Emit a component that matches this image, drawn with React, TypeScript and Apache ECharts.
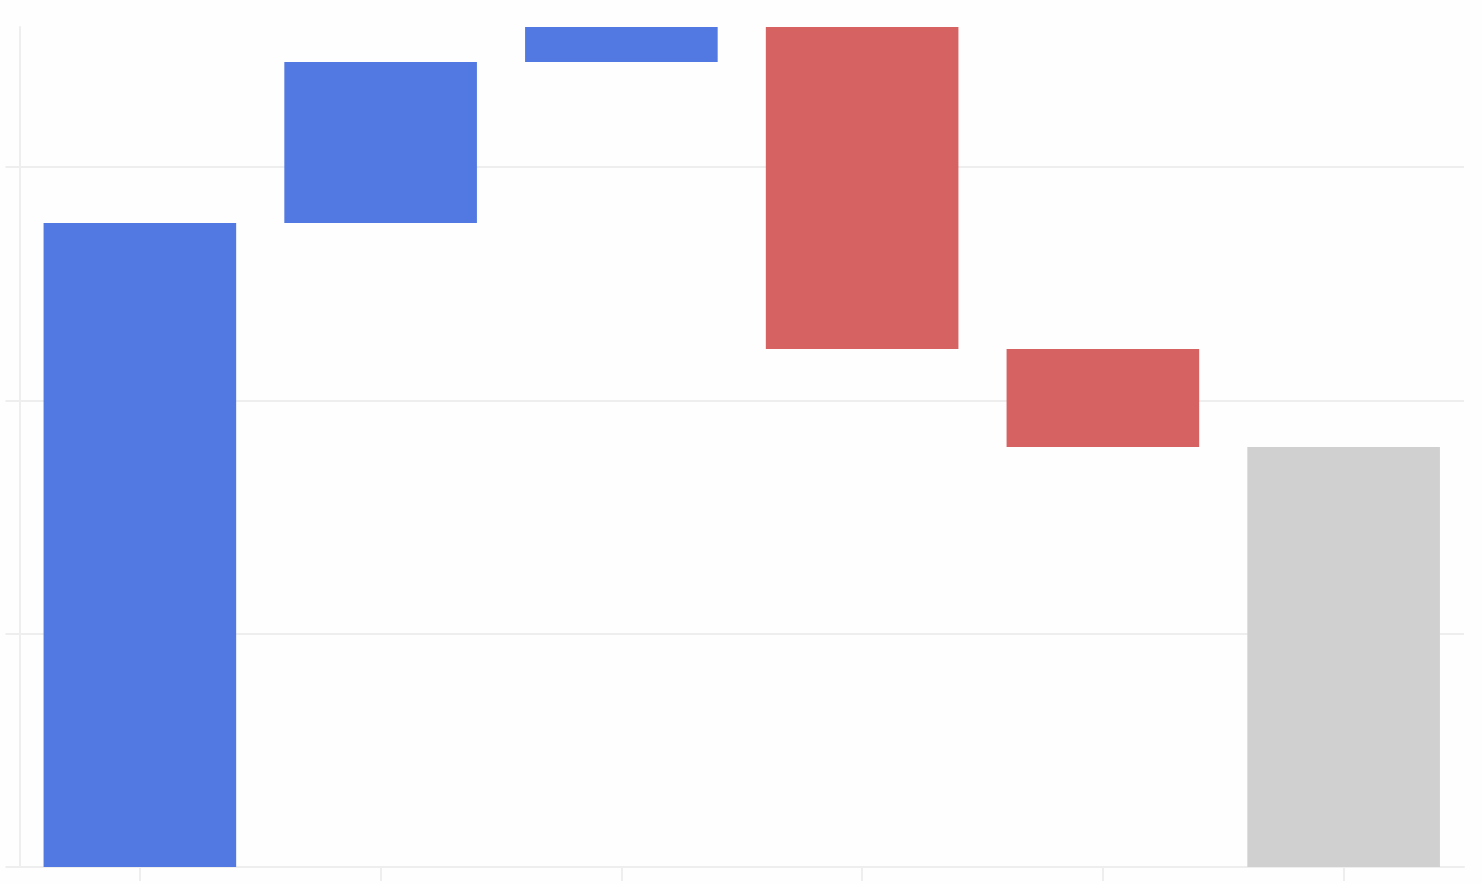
import React, { useEffect, useRef } from "react";
import * as echarts from "echarts";

// waterfall steps: first is the opening value, last is the closing total
const categories = ["Start", "Step 1", "Step 2", "Step 3", "Step 4", "Total"];
const changes = [138, 34.5, 7.5, -69, -21];
const yTicks = [0, 50, 100, 150];
const yMax = 180;

const BLUE = "#5279E1";
const RED = "#D76262";
const GRAY = "#D0D0D0";
const LINE = "#EEEEEE";

const App: React.FC = () => {
  const chartRef = useRef<HTMLDivElement>(null);

  useEffect(() => {
    if (!chartRef.current) return;
    const myChart = echarts.init(chartRef.current, null, { renderer: "svg" });

    // running total -> invisible base + visible bar height
    const base: number[] = [];
    const height: any[] = [];
    let total = 0;
    changes.forEach((c, i) => {
      const start = total;
      total += c;
      if (i === 0) {
        base.push(0);
        height.push({ value: c, itemStyle: { color: BLUE } });
      } else {
        base.push(Math.min(start, total));
        height.push({ value: Math.abs(c), itemStyle: { color: c >= 0 ? BLUE : RED } });
      }
    });
    base.push(0);
    height.push({ value: total, itemStyle: { color: GRAY } });

    const option: echarts.EChartsOption = {
      animation: false,
      grid: { left: 19.5, right: 18, top: 27, bottom: 17, containLabel: false },
      xAxis: {
        type: "category",
        data: categories,
        axisLine: { show: true, lineStyle: { color: LINE, width: 2 } },
        axisTick: { show: true, alignWithLabel: true, length: 14, lineStyle: { color: LINE, width: 2 } },
        axisLabel: { show: false },
        splitLine: { show: false },
      },
      yAxis: {
        type: "value",
        min: yTicks[0],
        max: yMax,
        interval: yTicks[1] - yTicks[0],
        axisLine: { show: true, lineStyle: { color: LINE, width: 2 } },
        axisTick: {
          show: true,
          length: 14,
          customValues: yTicks,
          lineStyle: { color: LINE, width: 2 },
        } as any,
        axisLabel: { show: false },
        splitLine: { show: true, lineStyle: { color: LINE, width: 2 } },
      },
      series: [
        {
          name: "base",
          type: "bar",
          stack: "wf",
          data: base,
          itemStyle: { color: "transparent" },
          barCategoryGap: "20%",
          silent: true,
        },
        {
          name: "value",
          type: "bar",
          stack: "wf",
          data: height,
          barCategoryGap: "20%",
        },
      ],
    };

    myChart.setOption(option);
    return () => {
      myChart.dispose();
    };
  }, []);

  return (
    <div
      ref={chartRef}
      style={{ position: "absolute", left: 0, top: 0, width: 1482, height: 884, background: "#FEFEFE" }}
    />
  );
};

export default App;
